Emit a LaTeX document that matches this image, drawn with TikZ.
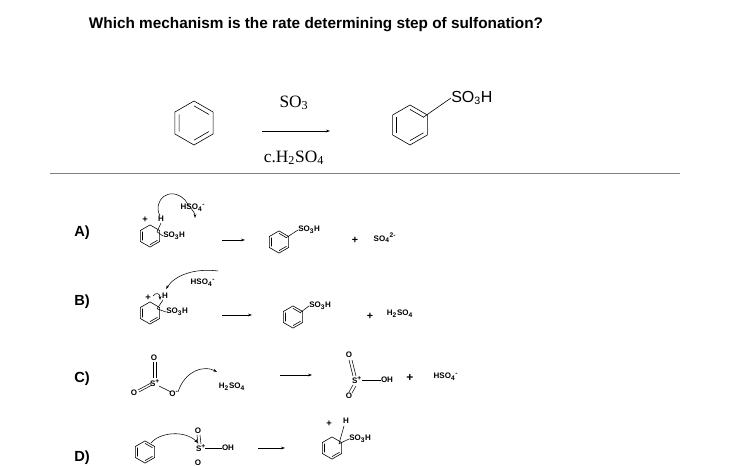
\documentclass[tikz,border=0pt]{standalone}
\usepackage{fontspec}
\setmainfont{Liberation Sans}
\newfontfamily\serifx{Liberation Serif}
\usetikzlibrary{arrows.meta}
\tikzset{
 lab/.style={inner sep=0pt,font=\fontsize{6}{7}\selectfont\bfseries},
 big/.style={inner sep=0pt,font=\fontsize{11}{12}\selectfont\bfseries},
 rx/.style={-{Stealth[length=3pt,width=2pt]},line width=0.4pt},
 curv/.style={-{Stealth[length=3pt,width=2pt]},line width=0.4pt},
 ringline/.style={line width=0.45pt}
}
\newcommand\hexbenz[3]{\begin{scope}[shift={(#1,#2)}]
 \draw[ringline] (90:#3pt)--(30:#3pt)--(-30:#3pt)--(-90:#3pt)--(-150:#3pt)--(150:#3pt)--cycle;
 \draw[ringline] (90:0.78*#3pt)--(30:0.78*#3pt) (-30:0.78*#3pt)--(-90:0.78*#3pt) (-150:0.78*#3pt)--(150:0.78*#3pt);
\end{scope}}
\newcommand\hexcyc[3]{\begin{scope}[shift={(#1,#2)}]
 \draw[ringline] (90:#3pt)--(30:#3pt)--(-30:#3pt)--(-90:#3pt)--(-150:#3pt)--(150:#3pt)--cycle;
 \draw[ringline] (-30:0.78*#3pt)--(-90:0.78*#3pt) (-150:0.78*#3pt)--(150:0.78*#3pt);
\end{scope}}
\begin{document}
\begin{tikzpicture}[x=0.75pt,y=-0.75pt]
\useasboundingbox[fill=white] (0,0) rectangle (729,466);
\node[font=\fontsize{11.5}{13}\selectfont\bfseries] (title) at (316,25) {Which mechanism is the rate determining step of sulfonation?};
% top reaction
\hexbenz{194}{123}{16.5}
\coordinate (ra1) at (262,131); \coordinate (ra2) at (330,131);
\draw[rx] (ra1)--(ra2);
\node[font=\serifx\fontsize{13}{14}\selectfont] (so3) at (294,103) {SO\textsubscript{3}};
\node[font=\serifx\fontsize{13}{14}\selectfont] (ch) at (294,158) {c.H\textsubscript{2}SO\textsubscript{4}};
\hexbenz{410}{125}{15}
\node[font=\fontsize{12}{13}\selectfont,anchor=west,inner sep=0pt] (p1) at (451,98) {SO\textsubscript{3}H};
\draw[line width=0.45pt] (423,117.5)--(p1.west);
\draw[line width=0.5pt,gray] (50,173)--(680,173);
% A
\node[big] (A) at (82,233) {A)};
\hexcyc{150}{236}{8.3}
\node[font=\fontsize{7}{8}\selectfont\bfseries,inner sep=0] (pa) at (145,220) {+};
\node[lab] (ha) at (161,219) {H};
\node[lab,anchor=west] (sa) at (163,236) {SO\textsubscript{3}H};
\draw[line width=0.4pt] (157,231.8)--(161,223) (157,231.8)--(sa.west);
\node[lab] (hsa) at (193,208) {HSO\textsubscript{4}\textsuperscript{-}};
\draw[curv] (160,216) .. controls (152,200) and (170,185) .. (185,200) .. controls (190,208) and (195,212) .. (195,218);
\coordinate (a1) at (222,240); \coordinate (a2) at (245,240);
\draw[rx] (a1)--(a2);
\hexbenz{279}{242}{8.3}
\node[lab,anchor=west] (sa2) at (298,230) {SO\textsubscript{3}H};
\draw[line width=0.4pt] (286,237.8)--(sa2.west);
\node[font=\fontsize{8}{9}\selectfont\bfseries,inner sep=0] (pl1) at (355,240) {+};
\node[lab] (so4) at (385,238) {SO\textsubscript{4}\textsuperscript{2-}};
% B
\node[big] (B) at (82,302) {B)};
\hexcyc{150}{313}{8.3}
\node[font=\fontsize{7}{8}\selectfont\bfseries,inner sep=0] (pb) at (148,298) {+};
\node[lab] (hb) at (165,296) {H};
\node[lab,anchor=west] (sb) at (166,312) {SO\textsubscript{3}H};
\draw[line width=0.4pt] (157,308.8)--(163,300) (157,308.8)--(sb.west);
\node[lab] (hsb) at (203,283) {HSO\textsubscript{4}\textsuperscript{-}};
\draw[curv] (218,271) .. controls (195,268) and (175,275) .. (166,289);
\draw[curv] (153,296) .. controls (156,292) and (160,293) .. (160,300);
\coordinate (b1) at (222,315); \coordinate (b2) at (252,315);
\draw[rx] (b1)--(b2);
\hexbenz{293}{317}{8.3}
\node[lab,anchor=west] (sb2) at (309,306) {SO\textsubscript{3}H};
\draw[line width=0.4pt] (300,312.8)--(sb2.west);
\node[font=\fontsize{8}{9}\selectfont\bfseries,inner sep=0] (pl2) at (370,316) {+};
\node[lab] (h2so4) at (400,314) {H\textsubscript{2}SO\textsubscript{4}};
% C
\node[big] (C) at (82,379) {C)};
\node[lab] (sc) at (155,383) {S\textsuperscript{+}};
\node[lab] (oc1) at (154,358) {O};
\node[lab] (oc2) at (134,393) {O};
\node[lab] (oc3) at (174,394) {O\textsuperscript{-}};
\draw[line width=0.4pt] (153,362)--(153,378) (156,362)--(156,378);
\draw[line width=0.4pt] (138,390)--(151,383) (139,392)--(152,385);
\draw[line width=0.4pt] (159,386)--(171,392);
\draw[curv] (178,392) .. controls (185,370) and (205,365) .. (217,372);
\node[lab] (h2so4c) at (232,387) {H\textsubscript{2}SO\textsubscript{4}};
\coordinate (c1) at (280,375); \coordinate (c2) at (312,375);
\draw[rx] (c1)--(c2);
\node[lab] (sc2) at (357,380) {S\textsuperscript{+}};
\node[lab] (oc4) at (349,355) {O};
\node[lab] (oc5) at (349,396) {O};
\node[lab] (ohc) at (387,380) {OH};
\draw[line width=0.4pt] (349,360)--(353,376) (352,360)--(356,376);
\draw[line width=0.4pt] (349,392)--(353,385) (352,393)--(356,386);
\draw[line width=0.4pt] (362,380)--(ohc.west);
\node[font=\fontsize{9}{9}\selectfont\bfseries,inner sep=0] (pl3) at (410,378) {+};
\node[lab] (hsc) at (446,377) {HSO\textsubscript{4}\textsuperscript{-}};
% D
\node[big] (D) at (82,458) {D)};
\hexbenz{145}{452}{8.3}
\node[lab] (sd) at (201,448) {S\textsuperscript{+}};
\node[lab] (od1) at (198,431) {O};
\node[lab,anchor=north] (od2) at (198,460) {O};
\node[lab] (ohd) at (228,448) {OH};
\draw[line width=0.4pt] (197,435)--(198,444) (200,435)--(201,444);
\draw[line width=0.4pt] (205,448)--(ohd.west);
\draw[curv] (151,443) .. controls (160,432) and (185,430) .. (198,443);
\coordinate (d1) at (258,448); \coordinate (d2) at (285,448);
\draw[rx] (d1)--(d2);
\hexcyc{332}{448}{8.3}
\node[font=\fontsize{7}{8}\selectfont\bfseries,inner sep=0] (pd) at (329,424) {+};
\node[lab] (hd) at (346,421) {H};
\node[lab,anchor=west] (sd2) at (349,439) {SO\textsubscript{3}H};
\draw[line width=0.4pt] (339,443.8)--(344,426) (339,443.8)--(sd2.west);
\end{tikzpicture}
\end{document}
